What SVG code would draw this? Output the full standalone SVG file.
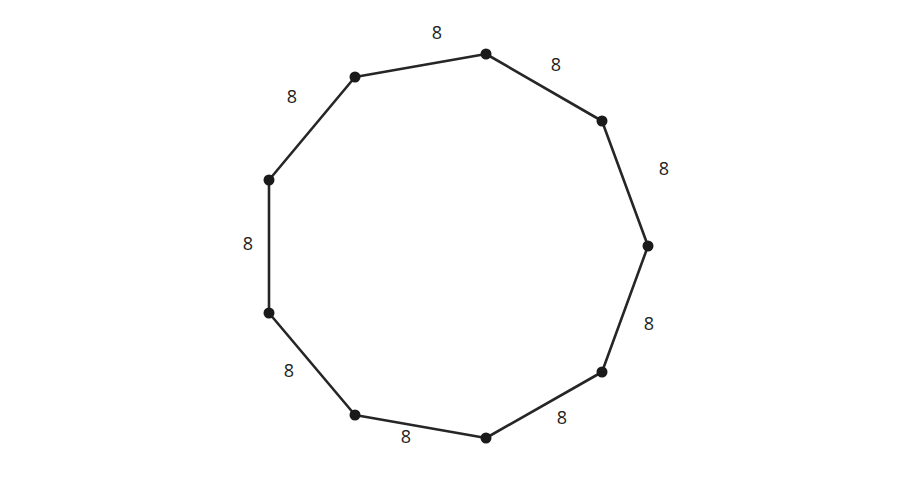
<svg xmlns="http://www.w3.org/2000/svg" width="917" height="502" viewBox="0 0 917 502">
<style>
.edge{stroke:#262626;stroke-width:2.6;fill:none;stroke-linejoin:round}
.dot{fill:#1a1a1a}
.lbl{font-family:"Open Sans","Noto Sans",sans-serif;font-size:18px;fill:#222;text-anchor:middle;dominant-baseline:central}
</style>
<rect width="917" height="502" fill="#fff"/>
<g id="connectors">
<polygon class="edge" points="486,54 602,121 648,246 602,372 486,438 355,415 269,313 269,180 355,77"/>
</g>
<g id="labels">
<text class="lbl" x="437" y="32">8</text>
<text class="lbl" x="556" y="64">8</text>
<text class="lbl" x="664" y="168">8</text>
<text class="lbl" x="649" y="323">8</text>
<text class="lbl" x="562" y="417">8</text>
<text class="lbl" x="406" y="436">8</text>
<text class="lbl" x="289" y="370">8</text>
<text class="lbl" x="248" y="243">8</text>
<text class="lbl" x="292" y="96">8</text>
</g>
<g id="n0"><circle class="dot" cx="486" cy="54" r="5.5"/></g>
<g id="n1"><circle class="dot" cx="602" cy="121" r="5.5"/></g>
<g id="n2"><circle class="dot" cx="648" cy="246" r="5.5"/></g>
<g id="n3"><circle class="dot" cx="602" cy="372" r="5.5"/></g>
<g id="n4"><circle class="dot" cx="486" cy="438" r="5.5"/></g>
<g id="n5"><circle class="dot" cx="355" cy="415" r="5.5"/></g>
<g id="n6"><circle class="dot" cx="269" cy="313" r="5.5"/></g>
<g id="n7"><circle class="dot" cx="269" cy="180" r="5.5"/></g>
<g id="n8"><circle class="dot" cx="355" cy="77" r="5.5"/></g>
</svg>
